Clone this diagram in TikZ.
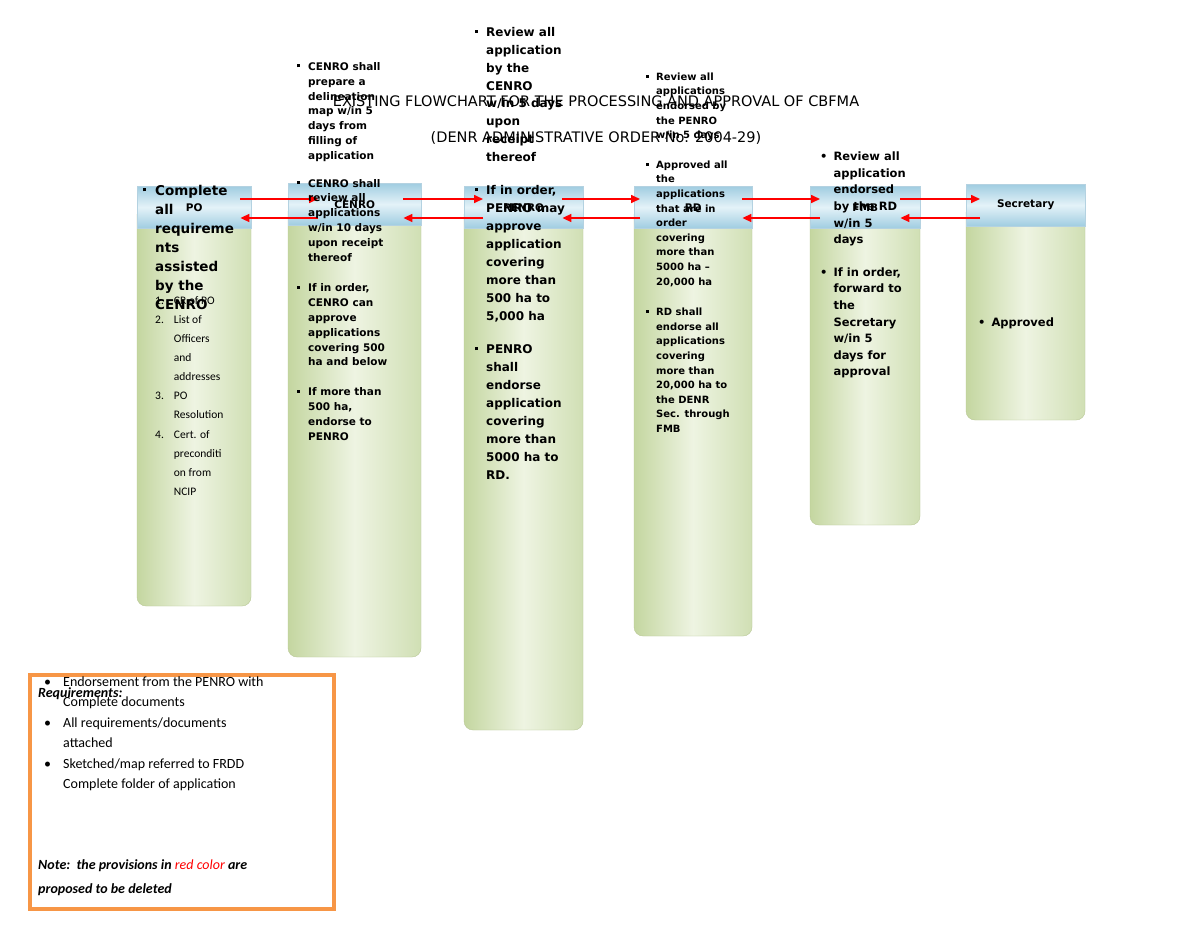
\documentclass[tikz,border=0pt]{standalone}
\usepackage{fontspec}
\setmainfont{DejaVu Sans}
\newfontfamily\carl{Carlito}
\usetikzlibrary{arrows.meta,calc}
\definecolor{hdA}{RGB}{160,205,225}
\definecolor{hdB}{RGB}{228,242,248}
\definecolor{hdD}{RGB}{180,210,225}
\definecolor{bdA}{RGB}{196,214,160}
\definecolor{bdB}{RGB}{238,244,226}
\definecolor{bdC}{RGB}{208,223,180}
\definecolor{bdD}{RGB}{185,200,150}
\definecolor{orng}{RGB}{247,150,70}
\newcommand\sqb{\raisebox{0.28em}{\rule{3pt}{3pt}}}
\begin{document}
\begin{tikzpicture}[x=1pt,y=-1pt,
  hdr/.style={draw=hdD,top color=hdA,bottom color=hdA,middle color=hdB,font=\bfseries\fontsize{10.5}{12}\selectfont,inner sep=0pt},
  bodybox/.style={draw=bdD,left color=bdA,right color=bdC,middle color=bdB,rounded corners=9pt},
  txt/.style={anchor=base west,inner sep=0pt,align=left},
  arr/.style={red,line width=1.6pt,-{Triangle[length=9pt,width=8pt]}}]
\useasboundingbox (0,0) rectangle (1200,927);
\fill[white] (0,0) rectangle (1200,927);
\node (title) at (596,101) {\fontsize{14.5}{16}\selectfont EXISTING FLOWCHART FOR THE PROCESSING AND APPROVAL OF CBFMA};
\node (sub) at (596,138) {\fontsize{14.5}{16}\selectfont (DENR ADMINISTRATIVE ORDER No. 2004-29)};
% columns
\newcommand\col[6]{% name, x1, x2, ytop, ybottom, label
  \path[bodybox] (#2,#4+20) rectangle (#3,#5);
  \node[hdr,minimum width=#3pt-#2pt,minimum height=42pt,anchor=north west] (#1) at (#2,#4) {#6};}
\col{po}{137}{251}{186}{606}{PO}
\col{cenro}{288}{421}{183}{657}{CENRO}
\col{penro}{464}{583}{186}{730}{PENRO}
\col{rd}{634}{752}{186}{636}{RD}
\col{fmb}{810}{920}{186}{525}{FMB}
\col{sec}{966}{1085}{184}{420}{Secretary}
% arrows
\coordinate (yu) at (0,199); \coordinate (yl) at (0,218);
\newcommand\arrs[4]{%
  \coordinate (L) at ([xshift=#3]#1.east); \coordinate (R) at ([xshift=#4]#2.west);
  \draw[arr] (L|-yu) -- (R|-yu); \draw[arr] (R|-yl) -- (L|-yl);}
\arrs{po}{cenro}{-11pt}{30pt}
\arrs{cenro}{penro}{-18pt}{19pt}
\arrs{penro}{rd}{-21pt}{6pt}
\arrs{rd}{fmb}{-10pt}{10pt}
\arrs{fmb}{sec}{-20pt}{14pt}
% PO text
\node[txt] (tpo) at (143,252) {\bfseries\fontsize{13.5}{19}\selectfont
 \begin{tabular}{@{}l@{\hspace{9pt}}l@{}}\sqb & Complete\\ & all\\ & requireme\\ & nts\\ & assisted\\ & by the\\ & CENRO\end{tabular}};
\node[txt] (npo) at (155,399) {\carl\fontsize{11.5}{19.1}\selectfont
 \begin{tabular}{@{}l@{\hspace{10pt}}l@{}}1. & CR of PO\\ 2. & List of\\ & Officers\\ & and\\ & addresses\\ 3. & PO\\ & Resolution\\ 4. & Cert. of\\ & preconditi\\ & on from\\ & NCIP\end{tabular}};
% CENRO
\node[txt] (tce) at (297,255) {\bfseries\fontsize{10.5}{14.8}\selectfont
 \begin{tabular}{@{}l@{\hspace{8pt}}l@{}}\sqb & CENRO shall\\ & prepare a\\ & delineation\\ & map w/in 5\\ & days from\\ & filling of\\ & application\\[13pt]
 \sqb & CENRO shall\\ & review all\\ & applications\\ & w/in 10 days\\ & upon receipt\\ & thereof\\[16pt]
 \sqb & If in order,\\ & CENRO can\\ & approve\\ & applications\\ & covering 500\\ & ha and below\\[15pt]
 \sqb & If more than\\ & 500 ha,\\ & endorse to\\ & PENRO\end{tabular}};
% PENRO
\node[txt] (tpe) at (475,257) {\bfseries\fontsize{12}{17.95}\selectfont
 \begin{tabular}{@{}l@{\hspace{8pt}}l@{}}\sqb & Review all\\ & application\\ & by the\\ & CENRO\\ & w/in 5 days\\ & upon\\ & receipt\\ & thereof\\[15pt]
 \sqb & If in order,\\ & PENRO may\\ & approve\\ & application\\ & covering\\ & more than\\ & 500 ha to\\ & 5,000 ha\\[15pt]
 \sqb & PENRO\\ & shall\\ & endorse\\ & application\\ & covering\\ & more than\\ & 5000 ha to\\ & RD.\end{tabular}};
% RD
\node[txt] (trd) at (646,256) {\bfseries\fontsize{10}{14.6}\selectfont
 \begin{tabular}{@{}l@{\hspace{7pt}}l@{}}\sqb & Review all\\ & applications\\ & endorsed by\\ & the PENRO\\ & w/in 5 days\\[15pt]
 \sqb & Approved all\\ & the\\ & applications\\ & that are in\\ & order\\ & covering\\ & more than\\ & 5000 ha --\\ & 20,000 ha\\[16pt]
 \sqb & RD shall\\ & endorse all\\ & applications\\ & covering\\ & more than\\ & 20,000 ha to\\ & the DENR\\ & Sec. through\\ & FMB\end{tabular}};
% FMB
\node[txt] (tfm) at (820,268) {\bfseries\fontsize{11.5}{16.6}\selectfont
 \begin{tabular}{@{}l@{\hspace{6pt}}l@{}}\textbullet & Review all\\ & application\\ & endorsed\\ & by the RD\\ & w/in 5\\ & days\\[16pt]
 \textbullet & If in order,\\ & forward to\\ & the\\ & Secretary\\ & w/in 5\\ & days for\\ & approval\end{tabular}};
% Secretary
\node[txt] (tse) at (978,326) {\bfseries\fontsize{11.5}{16.6}\selectfont
 \begin{tabular}{@{}l@{\hspace{6pt}}l@{}}\textbullet & Approved\end{tabular}};
% Requirements box
\node[draw=orng,line width=4pt,minimum width=304pt,minimum height=234pt,anchor=north west,inner sep=0pt] (req) at (28,673) {};
\node[txt] (rq1) at (38,697) {\carl\bfseries\itshape\fontsize{14}{16}\selectfont Requirements:};
\node[txt] (rq2) at (44,737) {\carl\fontsize{14}{19.5}\selectfont
 \begin{tabular}{@{}l@{\hspace{12pt}}l@{}}\textbullet & Endorsement from the PENRO with\\ & Complete documents\\[2pt]
 \textbullet & All requirements/documents\\ & attached\\[2pt]
 \textbullet & Sketched/map referred to FRDD\\ & Complete folder of application\end{tabular}};
\node[txt] (rq3) at (38,869) {\carl\bfseries\itshape\fontsize{14}{16}\selectfont Note:\ \ the provisions in \textcolor{red}{\mdseries red color} are};
\node[txt] (rq4) at (38,893) {\carl\bfseries\itshape\fontsize{14}{16}\selectfont proposed to be deleted};
\end{tikzpicture}
\end{document}
